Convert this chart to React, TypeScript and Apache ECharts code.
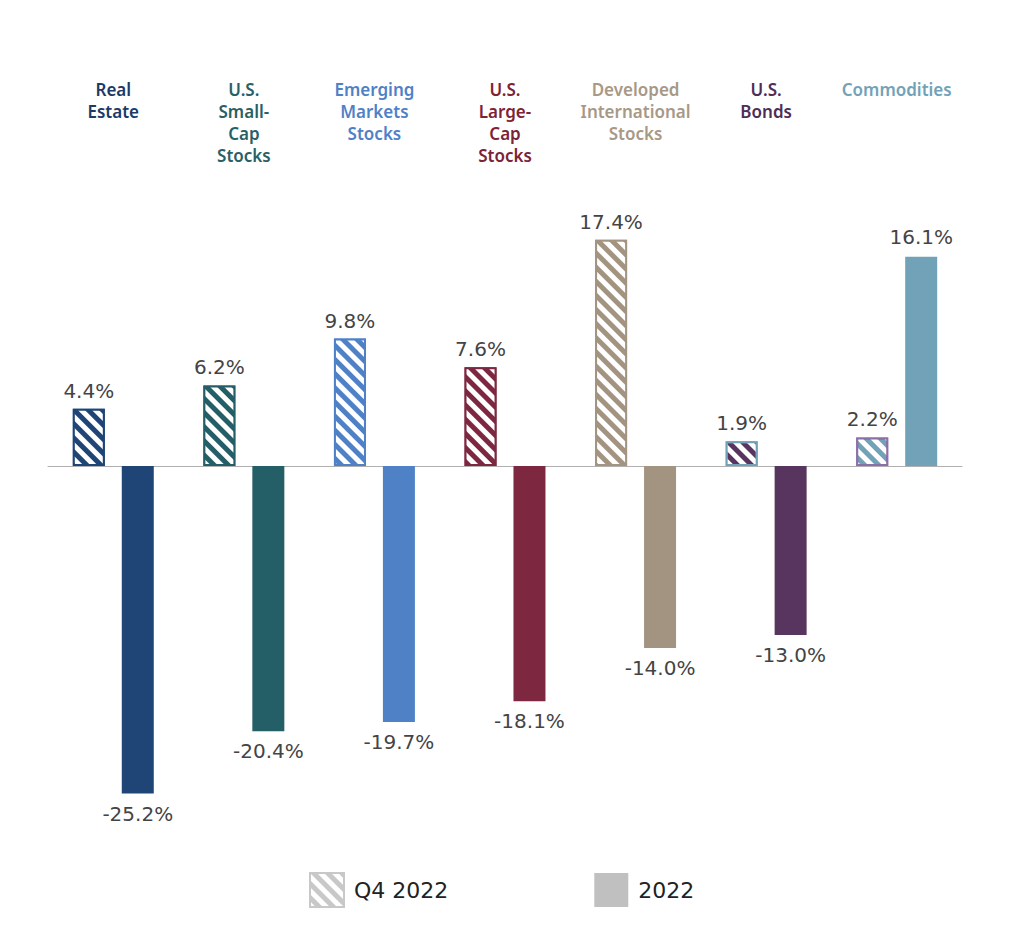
import React, { useEffect, useRef } from "react";
import * as echarts from "echarts";

const categories = [
  "Real\nEstate",
  "U.S.\nSmall-\nCap\nStocks",
  "Emerging\nMarkets\nStocks",
  "U.S.\nLarge-\nCap\nStocks",
  "Developed\nInternational\nStocks",
  "U.S.\nBonds",
  "Commodities",
];
const q4Values = [4.4, 6.2, 9.8, 7.6, 17.4, 1.9, 2.2];
const yearValues = [-25.2, -20.4, -19.7, -18.1, -14.0, -13.0, 16.1];
const barColors = ["#1E4576", "#245E66", "#4F81C7", "#7D2840", "#A39482", "#57355E", "#72A2B8"];
const labelColors = ["#1B3A68", "#2A5F66", "#4F81C7", "#7B2438", "#A89886", "#4F2D57", "#72A2B8"];
const q4Borders = ["#1E4576", "#245E66", "#4F81C7", "#7D2840", "#A39482", "#72A2B8", "#8A6FA8"];
const seriesNames = ["Q4 2022", "2022"];

const hatch = {
  symbol: "rect",
  symbolSize: 1,
  dashArrayX: [1, 0],
  dashArrayY: [5, 5],
  rotation: Math.PI / 4,
  color: "#ffffff",
};

export default function App() {
  const ref = useRef<HTMLDivElement>(null);
  useEffect(() => {
    const chart = echarts.init(ref.current!, null, { renderer: "svg" });
    const labelFmt = (p: any) => `${Number(p.value).toFixed(1)}%`;
    chart.setOption({
      animation: false,
      grid: { left: 48, right: 62, top: 206, bottom: 84 },
      legend: {
        data: seriesNames,
        top: 867,
        left: 304,
        itemWidth: 34,
        itemHeight: 34,
        itemGap: 146,
        icon: "rect",
        textStyle: { fontFamily: "DejaVu Sans", fontSize: 22, color: "#222", padding: [0, 0, 0, 5] },
      },
      xAxis: [
        {
          type: "category",
          data: categories,
          axisLine: { onZero: true, lineStyle: { color: "#b0b0b0", width: 1 } },
          axisTick: { show: false },
          axisLabel: { show: false },
        },
        {
          type: "category",
          data: categories,
          position: "top",
          axisLine: { show: false },
          axisTick: { show: false },
          axisLabel: {
            margin: 128,
            verticalAlign: "top",
            fontFamily: "Noto Sans",
            fontWeight: 600,
            fontSize: 17,
            lineHeight: 22,
            interval: 0,
            color: (_v: any, i: number) => labelColors[i],
          },
        },
      ],
      yAxis: { type: "value", min: -30, max: 20, show: false, splitLine: { show: false } },
      series: [
        {
          name: seriesNames[0],
          type: "bar",
          barWidth: 32,
          barGap: "53%",
          itemStyle: { color: "#c8c8c8", decal: hatch, borderWidth: 2, borderColor: "#c8c8c8" },
          label: {
            show: true,
            position: "top",
            distance: 8,
            formatter: labelFmt,
            fontFamily: "DejaVu Sans",
            fontSize: 20,
            color: "#444",
          },
          data: q4Values.map((v, i) => ({
            value: v,
            itemStyle: { color: barColors[i], borderColor: q4Borders[i], decal: hatch },
          })),
        },
        {
          name: seriesNames[1],
          type: "bar",
          barWidth: 32,
          barGap: "53%",
          itemStyle: { color: "#c0c0c0" },
          label: {
            show: true,
            distance: 10,
            formatter: labelFmt,
            fontFamily: "DejaVu Sans",
            fontSize: 20,
            color: "#444",
          },
          data: yearValues.map((v, i) => ({
            value: v,
            itemStyle: { color: barColors[i] },
            label: { position: v < 0 ? "bottom" : "top" },
          })),
        },
      ],
    });
    return () => chart.dispose();
  }, []);
  return <div ref={ref} style={{ width: 1024, height: 940, marginLeft: -8, marginTop: -8 }} />;
}
